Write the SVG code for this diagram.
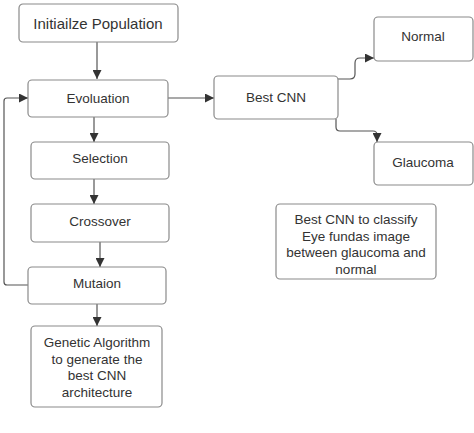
<svg xmlns="http://www.w3.org/2000/svg" width="474" height="433" viewBox="0 0 474 433">
<defs>
<style>
.box{fill:#fff;stroke:#8a8a8a;stroke-width:1.2}
.t{font-family:"Liberation Sans",Arial,sans-serif;font-size:13.5px;fill:#333;text-anchor:middle}
.s{font-size:13.5px}
.big{font-size:15px}
.c{fill:none;stroke:#555;stroke-width:1.2}
</style>
<marker id="ah" viewBox="0 0 10 10" refX="10" refY="5" markerWidth="9" markerHeight="9" markerUnits="userSpaceOnUse" orient="auto">
<path d="M0,0 L10,5 L0,10 z" fill="#333"/>
</marker>
</defs>
<rect width="474" height="433" fill="#fff"/>
<g id="connectors">
<path class="c" d="M97,42 V79" marker-end="url(#ah)"/>
<path class="c" d="M168,98 H214" marker-end="url(#ah)"/>
<path class="c" d="M338,79 H350 Q355,79 355,74 V63 Q355,58 360,58 H374" marker-end="url(#ah)"/>
<path class="c" d="M336,119 V127 Q336,131 340,131 H373 Q377,131 377,135 V142" marker-end="url(#ah)"/>
<path class="c" d="M94,117 V142" marker-end="url(#ah)"/>
<path class="c" d="M94,179 V204" marker-end="url(#ah)"/>
<path class="c" d="M100,242 V267" marker-end="url(#ah)"/>
<path class="c" d="M28,285 H7 Q4,285 4,282 V101 Q4,98 7,98 H28" marker-end="url(#ah)"/>
<path class="c" d="M97,304 V326" marker-end="url(#ah)"/>
</g>
<g id="init"><rect class="box" x="19" y="4" width="159" height="38" rx="4"/><text class="t big" x="98" y="28.5">Initiailze Population</text></g>
<g id="evol"><rect class="box" x="28" y="80" width="140" height="37" rx="4"/><text class="t" x="98" y="103">Evoluation</text></g>
<g id="best"><rect class="box" x="214" y="76" width="124" height="43" rx="4"/><text class="t" x="276" y="102">Best CNN</text></g>
<g id="normal"><rect class="box" x="374" y="17" width="99" height="44" rx="4"/><text class="t" x="423" y="41">Normal</text></g>
<g id="glaucoma"><rect class="box" x="374" y="142" width="99" height="43" rx="4"/><text class="t" x="423" y="167">Glaucoma</text></g>
<g id="selection"><rect class="box" x="31" y="142" width="138" height="37" rx="4"/><text class="t" x="100" y="163">Selection</text></g>
<g id="crossover"><rect class="box" x="31" y="204" width="138" height="38" rx="4"/><text class="t" x="100" y="226">Crossover</text></g>
<g id="mutation"><rect class="box" x="28" y="267" width="138" height="37" rx="4"/><text class="t" x="97" y="288">Mutaion</text></g>
<g id="genetic"><rect class="box" x="31" y="326" width="131" height="81" rx="4"/>
<text class="t s" x="97" y="347">Genetic Algorithm</text>
<text class="t s" x="97" y="363.5">to generate the</text>
<text class="t s" x="97" y="380">best CNN</text>
<text class="t s" x="97" y="396.5">architecture</text></g>
<g id="classify"><rect class="box" x="276" y="204" width="160" height="75" rx="4"/>
<text class="t s" x="356" y="224">Best CNN to classify</text>
<text class="t s" x="356" y="240.5">Eye fundas image</text>
<text class="t s" x="356" y="257">between glaucoma and</text>
<text class="t s" x="356" y="273.5">normal</text></g>
</svg>
